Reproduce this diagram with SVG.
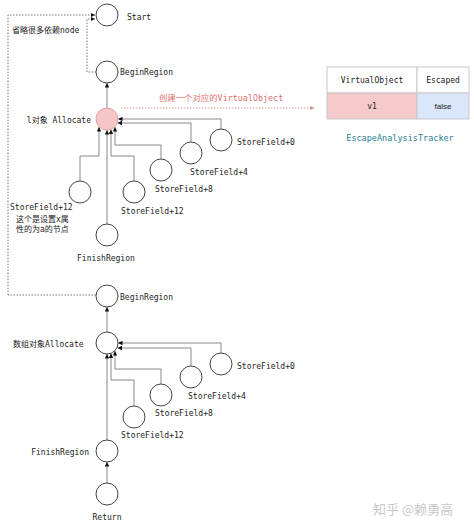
<svg xmlns="http://www.w3.org/2000/svg" width="474" height="527" viewBox="0 0 474 527">
<style>
.n{fill:#fff;stroke:#444;stroke-width:1}
.pk{fill:#f6c6c6;stroke:#e2a3a3;stroke-width:1}
.t{font-family:"DejaVu Sans Mono","Noto Sans CJK SC",monospace;font-size:8px;fill:#222;dominant-baseline:central}
.c{fill:none;stroke:#8a8a8a;stroke-width:1;marker-end:url(#ah)}
.d{fill:none;stroke:#777;stroke-width:1;stroke-dasharray:1.5 1.5}
</style>
<defs>
<marker id="ah" viewBox="0 0 6 6" refX="6" refY="3" markerWidth="4.5" markerHeight="4.5" orient="auto" markerUnits="userSpaceOnUse"><path d="M0,0 L6,3 L0,6 z" fill="#111"/></marker>
<marker id="ahr" viewBox="0 0 6 6" refX="6" refY="3" markerWidth="4" markerHeight="4" orient="auto" markerUnits="userSpaceOnUse"><path d="M0,0 L6,3 L0,6 z" fill="#d88"/></marker>
</defs>
<rect width="474" height="527" fill="#fff"/>
<g id="connectors">
<path class="d" d="M8,295 L8,15 L95,15" marker-end="url(#ah)"/>
<path class="d" d="M96,295 L8,295"/>
<path class="d" d="M96,72 L87,72 L87,19 L95,19" marker-end="url(#ah)"/>
<path class="c" d="M107,108 L107,83"/>
<path class="c" d="M221,129 L221,119 L118,119"/>
<path class="c" d="M191,142 L191,123 L117.5,123"/>
<path class="c" d="M161,159 L161,145 L115,145 L115,127"/>
<path class="c" d="M134,181 L134,156 L111,156 L111,129.5"/>
<path class="c" d="M80,181 L80,156 L99,156 L99,127"/>
<path class="c" d="M107,224 L107,130"/>
<path fill="none" stroke="#d99" stroke-width="1" stroke-dasharray="1.5 1.5" marker-end="url(#ahr)" d="M121,108 L314,108"/>
<path class="c" d="M107,332 L107,307"/>
<path class="c" d="M221,353 L221,343 L118,343"/>
<path class="c" d="M191,366 L191,348 L117.5,348"/>
<path class="c" d="M161,384 L161,369 L115,369 L115,351"/>
<path class="c" d="M134,406 L134,380 L111,380 L111,353.5"/>
<path class="c" d="M107,440 L107,354"/>
<path class="c" d="M107,483 L107,462"/>
</g>
<g id="start"><circle class="n" cx="107" cy="15" r="11"/><text class="t" x="127" y="17">Start</text></g>
<text id="note1" class="t" x="12" y="30">省略很多依赖node</text>
<g id="beginRegion1"><circle class="n" cx="107" cy="72" r="11"/><text class="t" x="120" y="72">BeginRegion</text></g>
<g id="allocate1"><circle class="pk" cx="107" cy="119" r="11"/><text class="t" x="91" y="120" text-anchor="end">l对象 Allocate</text></g>
<text id="vo-label" class="t" x="159" y="98" style="fill:#e07070;font-size:8.4px">创建一个对应的VirtualObject</text>
<g id="sf0a"><circle class="n" cx="221" cy="140" r="11"/><text class="t" x="237" y="142">StoreField+0</text></g>
<g id="sf4a"><circle class="n" cx="191" cy="153" r="11"/><text class="t" x="190" y="172">StoreField+4</text></g>
<g id="sf8a"><circle class="n" cx="161" cy="170" r="11"/><text class="t" x="155" y="189">StoreField+8</text></g>
<g id="sf12a"><circle class="n" cx="134" cy="192" r="11"/><text class="t" x="121" y="211">StoreField+12</text></g>
<g id="sf12left"><circle class="n" cx="80" cy="192" r="11"/><text class="t" x="10" y="207">StoreField+12</text><text class="t" x="16" y="219">这个是设置x属</text><text class="t" x="16" y="229">性的为a的节点</text></g>
<g id="finishRegion1"><circle class="n" cx="107" cy="235" r="11"/><text class="t" x="77" y="258">FinishRegion</text></g>
<g id="tracker">
<rect x="327" y="67" width="90" height="26" fill="#fff" stroke="#c8c8c8"/>
<rect x="417" y="67" width="52" height="26" fill="#fff" stroke="#c8c8c8"/>
<rect x="327" y="93" width="90" height="26" fill="#f6caca" stroke="#c8c8c8"/>
<rect x="417" y="93" width="52" height="26" fill="#dae6fb" stroke="#c8c8c8"/>
<text class="t" x="372" y="80" text-anchor="middle">VirtualObject</text>
<text class="t" x="443" y="80" text-anchor="middle">Escaped</text>
<text class="t" x="372" y="106" text-anchor="middle">v1</text>
<text class="t" x="443" y="106" text-anchor="middle" style="font-family:'Liberation Sans',sans-serif">false</text>
<text class="t" x="400" y="138" text-anchor="middle" style="fill:#2a7f95;font-size:8.5px">EscapeAnalysisTracker</text>
</g>
<g id="beginRegion2"><circle class="n" cx="107" cy="296" r="11"/><text class="t" x="120" y="297">BeginRegion</text></g>
<g id="allocate2"><circle class="n" cx="107" cy="343" r="11"/><text class="t" x="13" y="344">数组对象Allocate</text></g>
<g id="sf0b"><circle class="n" cx="221" cy="364" r="11"/><text class="t" x="237" y="366">StoreField+0</text></g>
<g id="sf4b"><circle class="n" cx="191" cy="377" r="11"/><text class="t" x="188" y="396">StoreField+4</text></g>
<g id="sf8b"><circle class="n" cx="161" cy="395" r="11"/><text class="t" x="155" y="413">StoreField+8</text></g>
<g id="sf12b"><circle class="n" cx="134" cy="417" r="11"/><text class="t" x="121" y="435">StoreField+12</text></g>
<g id="finishRegion2"><circle class="n" cx="107" cy="451" r="11"/><text class="t" x="89" y="452" text-anchor="end">FinishRegion</text></g>
<g id="return"><circle class="n" cx="107" cy="494" r="11"/><text class="t" x="107" y="517" text-anchor="middle">Return</text></g>
<text x="373" y="514" style="font-family:'Noto Sans CJK SC',sans-serif;font-size:13px;fill:#c8c8c8">知乎 @赖勇高</text>
</svg>
